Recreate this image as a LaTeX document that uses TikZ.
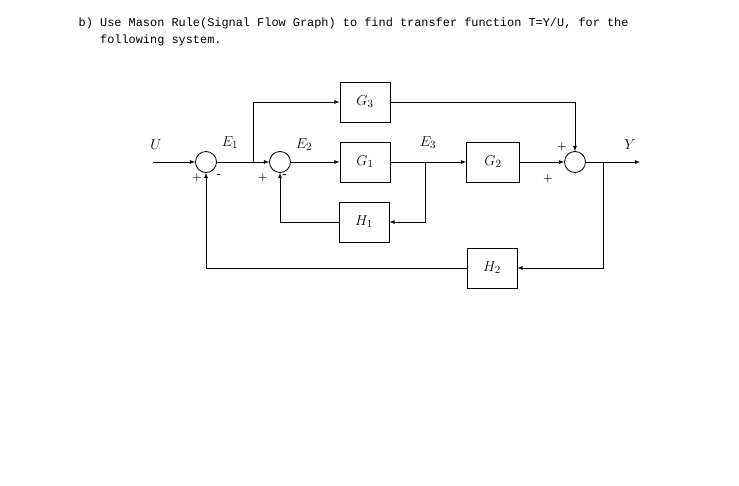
\documentclass[tikz,border=0pt]{standalone}
\usepackage{fontspec}
\newfontfamily\codefont{Liberation Mono}
\usetikzlibrary{arrows,positioning}
\tikzset{
  block/.style={draw,thick,minimum width=50pt,minimum height=40pt,inner sep=0pt,font=\fontsize{15}{15}\selectfont},
  sum/.style={draw,circle,minimum size=21pt,inner sep=0pt},
  sig/.style={font=\fontsize{15}{15}\selectfont},
  sgn/.style={font=\fontsize{11}{11}\selectfont\bfseries}
}
\begin{document}
\begin{tikzpicture}[x=1pt,y=-1pt,>=latex,thick]
\useasboundingbox (0,0) rectangle (739,486);
\node[anchor=west,font=\codefont\fontsize{11.9}{17}\selectfont,align=left] (task) at (75,32)
  {b) Use Mason Rule(Signal Flow Graph) to find transfer function T=Y/U, for the\\
  \ \ \ following system.};
\node[sum]   (s_1) at (206,162) {};
\node[sum]   (s_2) at (280,162) {};
\node[sum]   (s_3) at (575,162) {};
\node[block] (g_3) at (365,102) {$G_3$};
\node[block] (g_1) at (365,162) {$G_1$};
\node[block,minimum width=53pt] (g_2) at (493,162) {$G_2$};
\node[block] (h_1) at (364,222) {$H_1$};
\node[block] (h_2) at (492,268) {$H_2$};
\coordinate (u)   at (153,162);
\coordinate (y)   at (640,162);
\coordinate (b_1) at (253,162);
\coordinate (b_3) at (425,162);
\coordinate (b_y) at (603,162);
% forward paths
\draw[->] (u) -- (s_1);
\draw[->] (s_1) -- (s_2);
\draw[->] (s_2) -- (g_1);
\draw[->] (g_1) -- (g_2);
\draw[->] (g_2) -- (s_3);
\draw[->] (s_3) -- (y);
\draw[->] (b_1) |- (g_3);
\draw[->] (g_3) -| (s_3);
% feedback loops
\draw[->] (b_3) |- (h_1);
\draw[->] (h_1) -| (s_2);
\draw[->] (b_y) |- (h_2);
\draw[->] (h_2) -| (s_1);
% labels
\node[sig] (l_u)  at (156,145) {$U$};
\node[sig] (l_e1) at (230,143) {$E_1$};
\node[sig] (l_e2) at (304,145) {$E_2$};
\node[sig] (l_e3) at (428,143) {$E_3$};
\node[sig] (l_y)  at (630,145) {$Y$};
\node[sgn] (p_1) at (197,178) {+};
\node[sgn] (m_1) at (219,176) {-};
\node[sgn] (p_2) at (263,178) {+};
\node[sgn] (m_2) at (285,176) {-};
\node[sgn] (p_3) at (562,147) {+};
\node[sgn] (p_4) at (548,179) {+};
\end{tikzpicture}
\end{document}
